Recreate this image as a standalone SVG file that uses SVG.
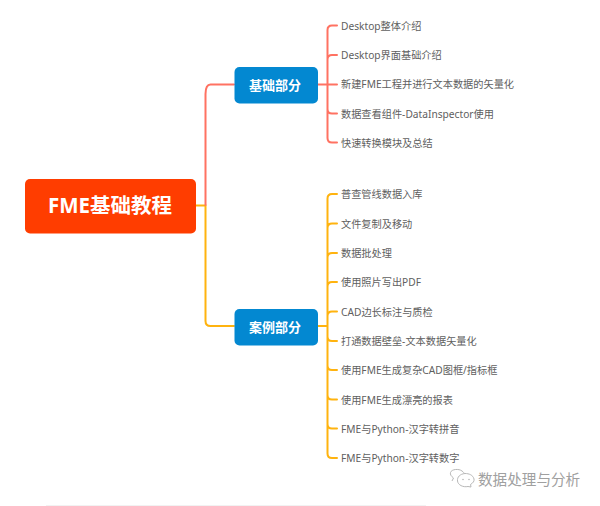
<svg xmlns="http://www.w3.org/2000/svg" width="600" height="506" viewBox="0 0 600 506">
<style>
text{font-family:"Noto Sans","Noto Sans CJK SC",sans-serif}
.c{fill:none;stroke-width:2;stroke-linecap:round}
.r{stroke:#ff7262}
.a{stroke:#ffb30f}
.t{font-size:10.200px;fill:#606060}
.b{font-size:13px;font-weight:700;fill:#fff;text-anchor:middle}
.n{fill:#0388d1}
</style>
<rect width="600" height="506" fill="#fff"/>
<rect x="46" y="505" width="380" height="1" fill="#f2f2f2"/>
<g id="connectors">
<path class="c a" d="M196 205.500H205.500V321Q205.500 326 210.500 326H234"/>
<path class="c r" d="M205.500 205V94Q205.500 84.500 210.500 84.500H234"/>
<path class="c r" d="M318 84.500H337M337 25.500H332Q327.500 25.500 327.500 30V138Q327.500 142.500 332 142.500H337M337 55H332Q327.500 55 327.500 59.500M327.500 109Q327.500 113.500 332 113.500H337"/>
<path class="c a" d="M318 326H327.500M337 194H332Q327.500 194 327.500 198.500V453.500Q327.500 458 332 458H337M337 223.500H332Q327.500 223.500 327.500 228M337 253H332Q327.500 253 327.500 257.500M337 282H332Q327.500 282 327.500 286.500M337 311.500H332Q327.500 311.500 327.500 316M327.500 336.500Q327.500 341 332 341H337M327.500 365.500Q327.500 370 332 370H337M327.500 395Q327.500 399.500 332 399.500H337M327.500 424Q327.500 428.500 332 428.500H337"/>
</g>
<g id="root"><rect x="25" y="179" width="171" height="54.500" rx="5" fill="#ff3d00"/><text x="110" y="212.500" font-size="20.500" font-weight="700" fill="#fff" text-anchor="middle">FME基础教程</text></g>
<g id="n1"><rect class="n" x="234.500" y="67" width="83.500" height="36.500" rx="5"/><text class="b" x="275" y="89.500">基础部分</text></g>
<g id="n2"><rect class="n" x="234.500" y="309" width="83.500" height="36.500" rx="5"/><text class="b" x="275" y="331.500">案例部分</text></g>
<g id="l1"><text class="t" x="341" y="29.500">Desktop整体介绍</text></g>
<g id="l2"><text class="t" x="341" y="59">Desktop界面基础介绍</text></g>
<g id="l3"><text class="t" x="341" y="88">新建FME工程并进行文本数据的矢量化</text></g>
<g id="l4"><text class="t" x="341" y="117.500">数据查看组件-DataInspector使用</text></g>
<g id="l5"><text class="t" x="341" y="146.500">快速转换模块及总结</text></g>
<g id="l6"><text class="t" x="341" y="198">普查管线数据入库</text></g>
<g id="l7"><text class="t" x="341" y="227.500">文件复制及移动</text></g>
<g id="l8"><text class="t" x="341" y="257">数据批处理</text></g>
<g id="l9"><text class="t" x="341" y="286">使用照片写出PDF</text></g>
<g id="l10"><text class="t" x="341" y="315.500">CAD边长标注与质检</text></g>
<g id="l11"><text class="t" x="341" y="345">打通数据壁垒-文本数据矢量化</text></g>
<g id="l12"><text class="t" x="341" y="374">使用FME生成复杂CAD图框/指标框</text></g>
<g id="l13"><text class="t" x="341" y="403.500">使用FME生成漂亮的报表</text></g>
<g id="l14"><text class="t" x="341" y="432.500">FME与Python-汉字转拼音</text></g>
<g id="l15"><text class="t" x="341" y="462">FME与Python-汉字转数字</text></g>
<g id="watermark">
<path d="M452 481L453.500 478C451 476 450 474.500 450.500 472.500C451.500 469 459 468.500 462 471C463.500 472 464 473 464.500 474" fill="none" stroke="#b8b8b8" stroke-width="1"/>
<path d="M471 487L470.500 484.500C473 483 474.500 481 474 479C473 475 469 473.500 465 473.500C460 474 457 477 457.500 481C458 485 463 487.500 468 486.500Z" fill="#fff" stroke="#b8b8b8" stroke-width="1"/>
<circle cx="463" cy="479.500" r=".8" fill="#b8b8b8"/><circle cx="469" cy="479.500" r=".8" fill="#b8b8b8"/>
<text x="478" y="484.500" font-size="14.600" fill="#a0a0a0">数据处理与分析</text>
</g>
</svg>
